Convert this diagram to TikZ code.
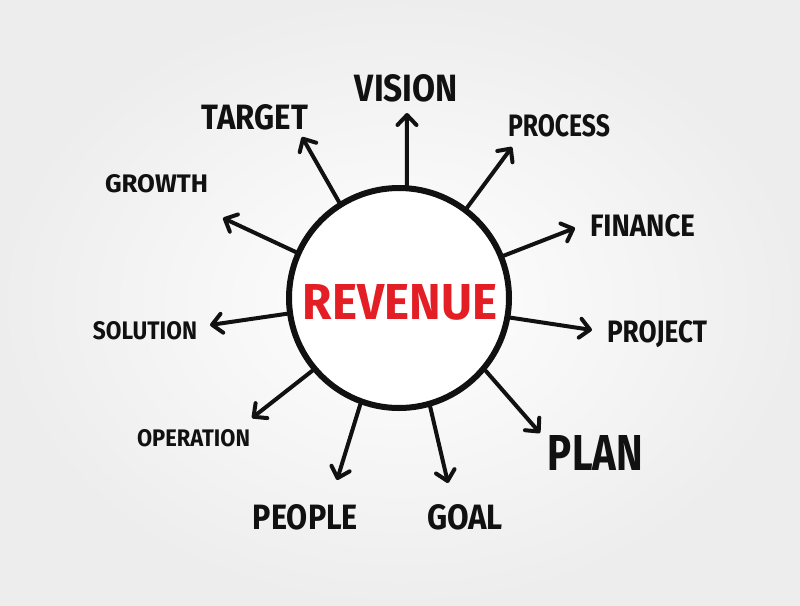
\documentclass[tikz,border=0pt]{standalone}
\usepackage{fontspec}
\setmainfont{Fira Sans}
\usetikzlibrary{arrows.meta}
\definecolor{ink}{HTML}{111111}
\definecolor{revred}{HTML}{E31E24}
\newcommand\lbl[3]{\resizebox{#1pt}{#2pt}{\bfseries #3}}
\tikzset{
  arr/.style={draw=ink, line width=4pt, line cap=round, line join=round,
    -{Straight Barb[length=10pt,width=19pt,line cap=round,line join=round]}},
  word/.style={inner sep=0pt, text=ink},
}
\begin{document}
\begin{tikzpicture}[x=1pt,y=-1pt]
\useasboundingbox (0,0) rectangle (800,605);
\shade[inner color=white, outer color=black!7] (0,0) rectangle (800,605);

\node[circle, draw=ink, line width=6pt, minimum size=220pt, fill=white] (rev) at (399,298) {};
\node[inner sep=0pt, text=revred] (revtxt) at (400,302.5) {\lbl{194}{35}{REVENUE}};

% tips
\coordinate (tVision) at (407,113);
\coordinate (tTarget) at (302,137);
\coordinate (tProcess) at (512,147);
\coordinate (tGrowth) at (223,218);
\coordinate (tFinance) at (575,228);
\coordinate (tSolution) at (210,325);
\coordinate (tProject) at (592,330);
\coordinate (tOperation) at (252,418);
\coordinate (tPlan) at (540,433);
\coordinate (tPeople) at (337,480);
\coordinate (tGoal) at (448,483);

\draw[arr] (rev.86) -- (tVision);
\draw[arr] (rev.122.9) -- (tTarget);
\draw[arr] (rev.53.6) -- (tProcess);
\draw[arr] (rev.156.5) -- (tGrowth);
\draw[arr] (rev.22.1) -- (tFinance);
\draw[arr] (rev.188.5) -- (tSolution);
\draw[arr] (rev.-10.9) -- (tProject);
\draw[arr] (rev.220.7) -- (tOperation);
\draw[arr] (rev.-40.4) -- (tPlan);
\draw[arr] (rev.250.9) -- (tPeople);
\draw[arr] (rev.-74.3) -- (tGoal);

% labels
\node[word] (vision) at (406.5,88.5) {\lbl{103}{27}{VISION}};
\node[word] (target) at (255,117.5) {\lbl{106}{25}{TARGET}};
\node[word] (process) at (559,126) {\lbl{102}{22}{PROCESS}};
\node[word] (growth) at (156.5,184) {\lbl{103}{18}{GROWTH}};
\node[word] (finance) at (642.5,226) {\lbl{105}{22}{FINANCE}};
\node[word] (solution) at (145,331) {\lbl{104}{18}{SOLUTION}};
\node[word] (project) at (657,334) {\lbl{100}{22}{PROJECT}};
\node[word] (operation) at (193.5,438.5) {\lbl{113}{17}{OPERATION}};
\node[word] (plan) at (595.5,452.5) {\lbl{95}{35}{PLAN}};
\node[word] (people) at (305.5,517.5) {\lbl{105}{25}{PEOPLE}};
\node[word] (goal) at (465,517.5) {\lbl{76}{25}{GOAL}};
\end{tikzpicture}
\end{document}
